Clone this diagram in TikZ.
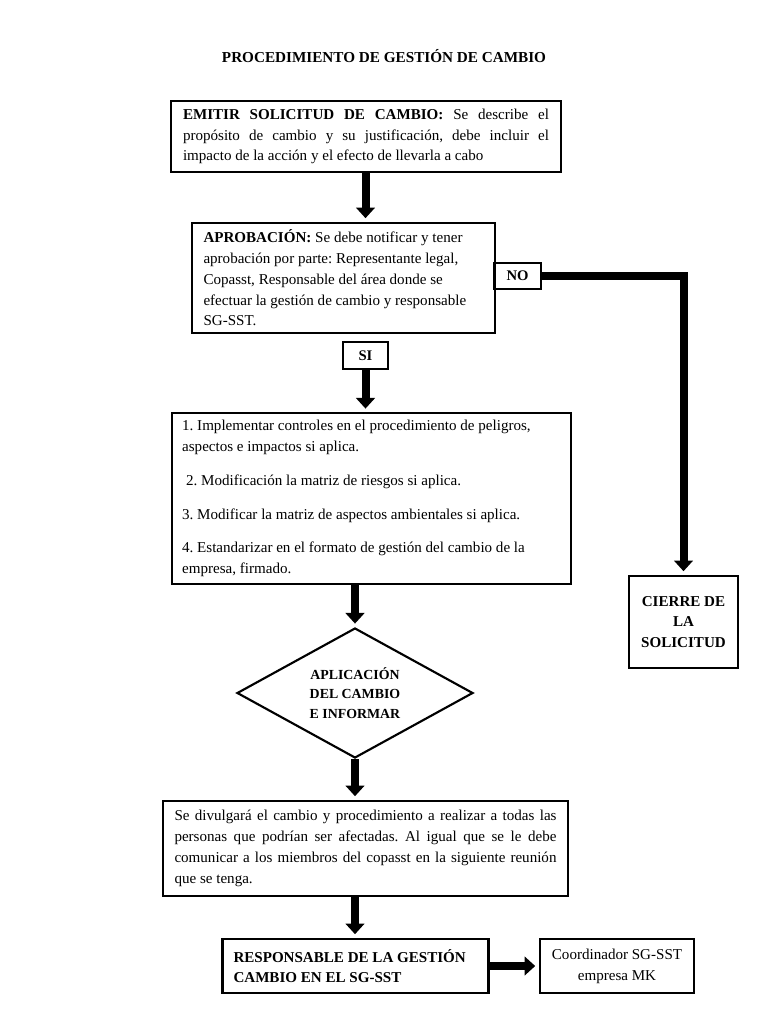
\documentclass[tikz,border=0pt]{standalone}
\usepackage{fontspec}
\setmainfont{Liberation Serif}
\usetikzlibrary{arrows.meta,shapes.geometric}
\begin{document}
\frenchspacing
\begin{tikzpicture}[x=0.75pt,y=-0.75pt,
  every node/.style={font=\fontsize{11.3}{15.6}\selectfont},
  box/.style={draw,line width=2.2pt,rectangle,inner sep=0pt},
  thinbox/.style={draw,line width=1.6pt,rectangle,inner sep=0pt},
  flow/.style={line width=6pt,-{Triangle[width=14pt,length=8pt]},shorten >=2.5pt}]
\useasboundingbox (0,0) rectangle (768,1024);
\node[font=\bfseries\fontsize{11.4}{14}\selectfont] (title) at (384,56) {PROCEDIMIENTO DE GESTIÓN DE CAMBIO};

\node[box,minimum width=292.5pt,minimum height=53.25pt,text width=274.5pt,align=justify] (b1) at (366,136.5)
{\hyphenpenalty=10000\textbf{EMITIR SOLICITUD DE CAMBIO:} Se describe el\linebreak propósito de cambio y su justificación, debe incluir el\linebreak impacto de la acción y el efecto de llevarla a cabo};

\node[box,minimum width=227.25pt,minimum height=82.5pt,text width=210pt,align=flush left] (b2) at (343.5,278)
{\textbf{APROBACIÓN:} Se debe notificar y tener\\aprobación por parte: Representante legal,\\Copasst, Responsable del área donde se\\efectuar la gestión de cambio y responsable\\SG-SST.};

\node[thinbox,minimum width=35.25pt,minimum height=19.5pt,font=\bfseries\fontsize{11}{14}\selectfont] (no) at (517.5,276) {NO};
\node[thinbox,minimum width=33.75pt,minimum height=20.25pt,font=\bfseries\fontsize{11}{14}\selectfont] (si) at (365.5,355.5) {SI};

\node[box,minimum width=81.75pt,minimum height=69pt,align=center,font=\bfseries\fontsize{11.3}{15.6}\selectfont] (cierre) at (683.5,622)
{CIERRE DE\\LA\\SOLICITUD};

\node[thinbox,minimum width=299.25pt,minimum height=128.25pt,text width=284pt,align=flush left] (b3) at (371.5,498.5)
{1. Implementar controles en el procedimiento de peligros,\\aspectos e impactos si aplica.\\[9.75pt]
\hspace*{3pt}2. Modificación la matriz de riesgos si aplica.\\[9.75pt]
3. Modificar la matriz de aspectos ambientales si aplica.\\[9.75pt]
4. Estandarizar en el formato de gestión del cambio de la\\empresa, firmado.};

\node[draw,diamond,line width=1.6pt,inner sep=0pt,minimum width=177pt,minimum height=97.5pt,aspect=1.8,align=center,font=\bfseries\fontsize{10.4}{14.6}\selectfont] (dia) at (355,693)
{APLICACIÓN\\DEL CAMBIO\\E INFORMAR};

\node[box,minimum width=303.75pt,minimum height=71.25pt,text width=286.5pt,align=justify] (b4) at (365.5,848.5)
{\hyphenpenalty=10000 Se divulgará el cambio y procedimiento a realizar a todas las\linebreak personas que podrían ser afectadas. Al igual que se le debe\linebreak comunicar a los miembros del copasst en la siguiente reunión\linebreak que se tenga.};

\node[box,minimum width=199.5pt,minimum height=40.5pt,text width=183pt,align=flush left,font=\bfseries\fontsize{11.3}{15.6}\selectfont] (b5) at (355.5,966)
{RESPONSABLE DE LA GESTIÓN\\CAMBIO EN EL SG-SST};

\node[box,minimum width=115.5pt,minimum height=40.5pt,align=center] (b6) at (617,966)
{Coordinador SG-SST\\empresa MK};

\draw[flow] (si.north |- b1.south) -- (si.north |- b2.north);
\draw[flow] (si.south) -- (si.south |- b3.north);
\draw[flow,line join=miter] (no.east) -- (no.east -| cierre.north) -- (cierre.north);
\draw[flow] (dia.north |- b3.south) -- (dia.north);
\draw[flow] (dia.south) -- (dia.south |- b4.north);
\draw[flow] (dia.south |- b4.south) -- (dia.south |- b5.north);
\draw[flow] (b5.east) -- (b6.west);
\end{tikzpicture}
\end{document}
